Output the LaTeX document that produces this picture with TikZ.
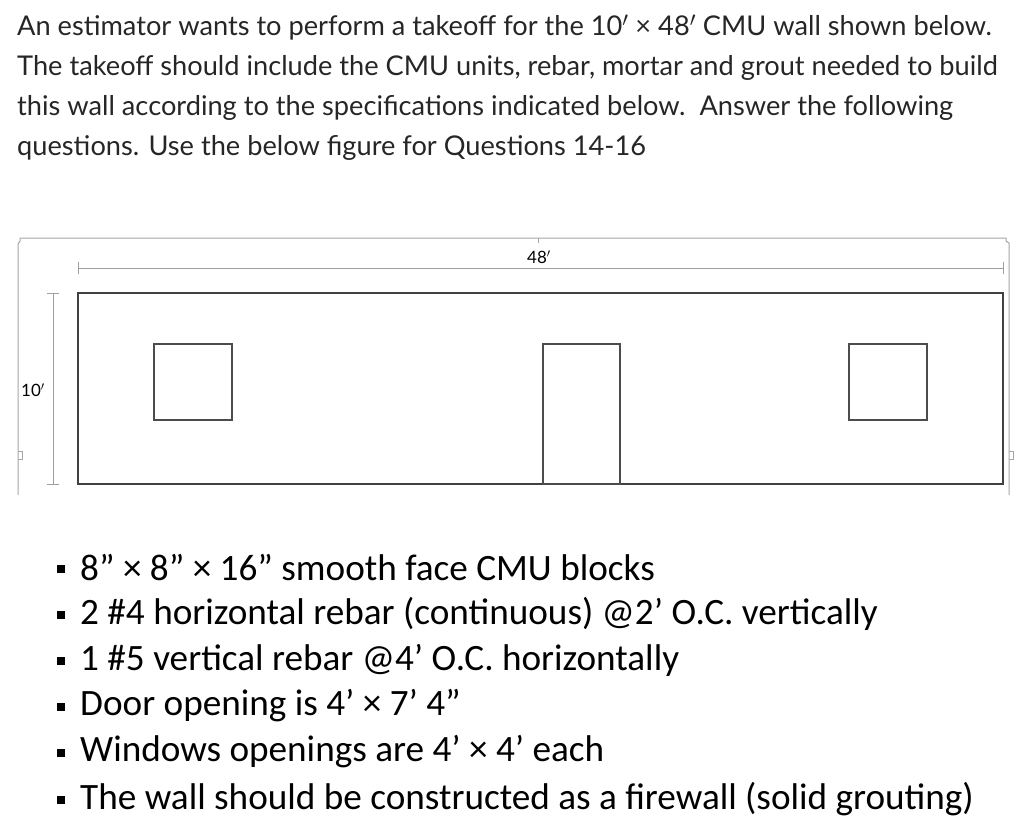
\documentclass[tikz,border=0pt]{standalone}
\usepackage{fontspec}
\setmainfont{Lato}
\newfontfamily\carl{Carlito}
\begin{document}
\begin{tikzpicture}[x=1pt,y=-1pt,
  frame/.style={draw=gray!70,line width=1pt},
  dim/.style={draw=gray!75,line width=0.8pt},
  wall/.style={draw=black!75,line width=1.6pt},
  opening/.style={draw=black!70,line width=1.1pt},
  para/.style={anchor=west,inner sep=0pt,font=\fontsize{27.2}{32}\selectfont,text=black!85},
  bul/.style={anchor=west,inner sep=0pt,font=\carl\fontsize{37.2}{42}\selectfont},
  bsq/.style={fill=black,minimum size=8pt,inner sep=0pt}]
\fill[white] (0,0) rectangle (1024,826);
\useasboundingbox (0,0) rectangle (1024,826);
\node[para] (p1) at (17,28) {An estimator wants to perform a takeoff for the 10$'$ × 48$'$ CMU wall shown below.};
\node[para] (p2) at (17,68) {The takeoff should include the CMU units, rebar, mortar and grout needed to build};
\node[para] (p3) at (17,108) {this wall according to the specifications indicated below.\ \ Answer the following};
\node[para] (p4) at (17,148) {questions. Use the below figure for Questions 14-16};
% frame
\draw[frame] (18,495) -- (18,244) -- (20,241) -- (20,238) -- (1006,238) -- (1006,241) -- (1009,243) -- (1009,495);
\draw[frame] (18,451) -- (22,451) -- (22,459) -- (18,459);
\draw[frame] (1009,451) -- (1013,451) -- (1013,459) -- (1009,459);
\draw[frame] (538,238) -- (538,243);
% dimensions
\coordinate (h1) at (78,268); \coordinate (h2) at (1003,268);
\draw[dim] (h1) -- (h2);
\draw[dim] (78,262) -- (78,274) (1003,262) -- (1003,274);
\node[font=\fontsize{17}{19}\selectfont] (l48) at (539,257) {48$'$};
\coordinate (v1) at (53,293); \coordinate (v2) at (53,484);
\draw[dim] (v1) -- (v2);
\draw[dim] (47,293) -- (59,293) (47,484) -- (59,484);
\node[font=\fontsize{17}{19}\selectfont,fill=white,inner sep=1pt] (l10) at (33,390) {10$'$};
% wall
\draw[wall] (78,293) rectangle (1003,484);
\draw[opening] (154,344) rectangle (232,420);
\draw[opening] (849,344) rectangle (927,420);
\draw[opening] (543,344) rectangle (620,484);
% bullets
\foreach \y/\t [count=\i] in {
 568/{8” × 8” × 16” smooth face CMU blocks},
 614/{2 \#4 horizontal rebar (continuous) @2’ O.C. vertically},
 660/{1 \#5 vertical rebar @4’ O.C. horizontally},
 706/{Door opening is 4’ × 7’ 4”},
 752/{Windows openings are 4’ × 4’ each},
 799/{The wall should be constructed as a firewall (solid grouting)}}{
 \node[bsq] (s\i) at (61,\y+1) {};
 \node[bul] (b\i) at (80,\y) {\t};
}
\end{tikzpicture}
\end{document}
